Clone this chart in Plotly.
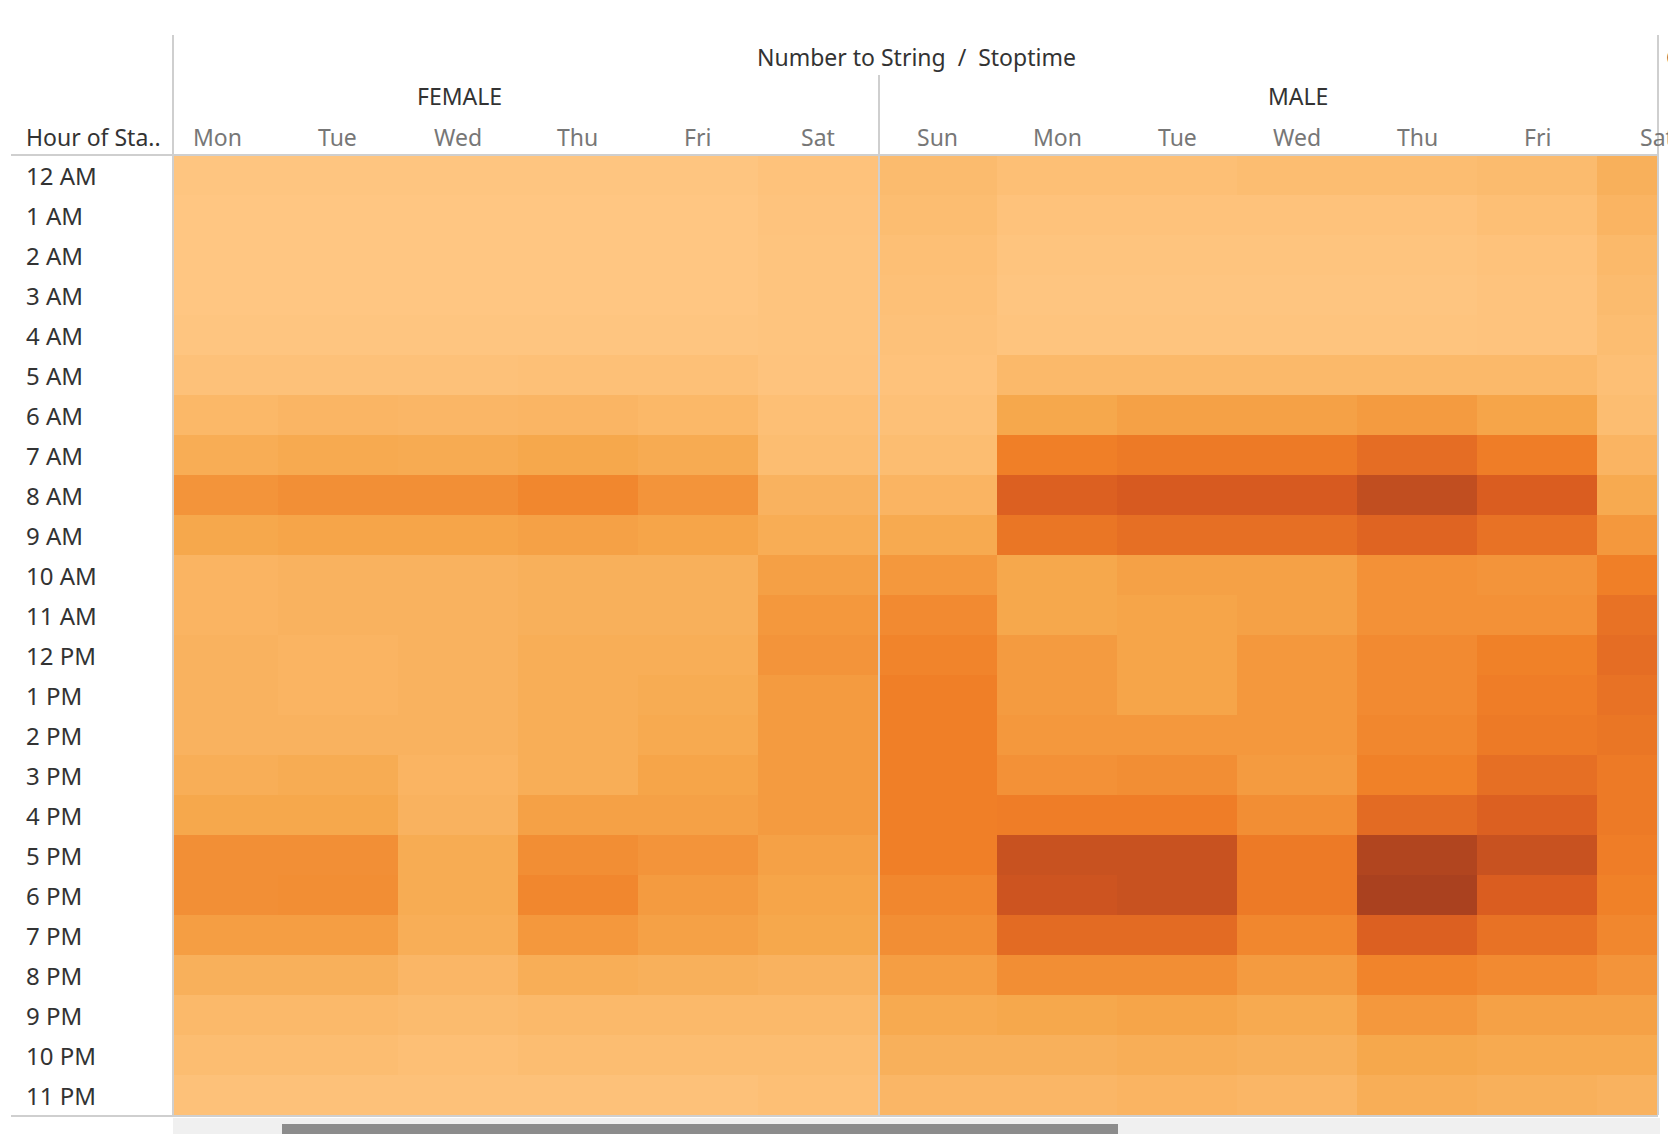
import plotly.graph_objects as go

hours = ["12 AM","1 AM","2 AM","3 AM","4 AM","5 AM","6 AM","7 AM","8 AM","9 AM","10 AM","11 AM",
         "12 PM","1 PM","2 PM","3 PM","4 PM","5 PM","6 PM","7 PM","8 PM","9 PM","10 PM","11 PM"]
female_days = ["Mon","Tue","Wed","Thu","Fri","Sat"]
male_days = ["Sun","Mon","Tue","Wed","Thu","Fri","Sat"]

female = [
 [2,2,2,2,2,5],[1,1,1,1,1,4],[1,1,1,1,1,3],[1,1,1,1,1,3],[2,2,2,2,2,3],[6,6,6,7,7,4],
 [15,17,16,17,15,8],[25,28,27,30,27,10],[42,45,45,50,42,20],[30,32,32,34,32,25],
 [18,20,20,22,22,35],[18,20,20,22,22,40],[20,18,20,24,24,42],[20,18,20,24,26,38],
 [20,20,20,24,28,38],[24,26,18,24,32,38],[30,30,20,34,34,38],[45,45,26,46,42,34],
 [45,46,26,50,38,32],[36,36,24,40,34,30],[22,22,16,24,22,20],[14,14,12,14,14,14],
 [10,10,8,10,10,10],[6,6,6,6,6,8]]
male = [
 [12,8,8,10,10,12,22],[10,5,5,5,5,8,18],[8,3,3,3,3,5,14],[7,2,2,2,2,4,12],[6,3,3,3,3,4,10],
 [5,14,14,14,14,14,8],[7,30,34,34,38,32,10],[10,55,58,58,65,56,18],[18,72,76,76,85,74,28],
 [28,60,64,64,70,62,40],[40,30,34,34,44,42,55],[48,30,32,34,44,44,62],[52,38,32,40,48,54,65],
 [55,38,32,40,48,56,62],[55,40,40,40,50,58,60],[55,44,46,38,54,64,58],[55,56,56,46,66,72,58],
 [55,82,82,58,92,82,56],[50,80,82,58,95,74,54],[46,66,66,50,72,62,50],[36,46,46,38,52,48,42],
 [28,30,32,28,40,34,34],[22,22,24,22,30,28,28],[16,16,18,16,24,22,20]]

OFF = 8
W, H = 1668, 1126
L, R, T, B = 173 - OFF, 1657 - OFF, 155 - OFF, 1115 - OFF
def px(x): return (x - OFF - L) / (R - L)
def py(y): return (B - (y - OFF)) / (B - T)

xs = list(range(1, 7)) + list(range(7, 14))
z = [f + m for f, m in zip(female, male)]
cs = [[0, '#FFC784'], [0.3, '#F6A84C'], [0.55, '#F07F27'], [0.75, '#D95B20'], [1, '#9E3A1F']]

fig = go.Figure(go.Heatmap(x=xs, y=list(range(24)), z=z, colorscale=cs, zmin=0, zmax=100,
                           showscale=False, xgap=0, ygap=0))
font = "Noto Sans"
def A(**k):
    k.setdefault('xanchor', 'center'); k.setdefault('yanchor', 'middle')
    k.setdefault('showarrow', False)
    return k
ann = []
for i, h in enumerate(hours):
    ann.append(A(x=px(24), xref='paper', y=i, yref='y', text=h, xanchor='left',
                 font=dict(size=24, color='#333', family=font)))
for i, d in enumerate(female_days + male_days):
    ann.append(A(x=xs[i], xref='x', y=py(137), yref='paper', text=d,
                 font=dict(size=23, color='#777', family=font)))
ann += [
    A(x=px(24), xref='paper', y=py(137), yref='paper', text="Hour of Sta..", xanchor='left',
      font=dict(size=23, color='#333', family=font)),
    A(x=px(916), xref='paper', y=py(57), yref='paper', text="Number to String  /  Stoptime",
      font=dict(size=23, color='#333', family=font)),
    A(x=px(459), xref='paper', y=py(96), yref='paper', text="FEMALE",
      font=dict(size=23, color='#333', family=font)),
    A(x=px(1298), xref='paper', y=py(96), yref='paper', text="MALE",
      font=dict(size=23, color='#333', family=font)),
    A(x=px(1664), xref='paper', y=py(57), yref='paper', text="C", xanchor='left',
      font=dict(size=23, color='#333', family=font)),
]
lc = '#cfcfcf'
def ln(x0, x1, y0, y1):
    return dict(type='line', xref='paper', yref='paper', x0=px(x0), x1=px(x1), y0=py(y0), y1=py(y1),
                line=dict(color=lc, width=2))
shapes = [
    ln(173, 173, 35, 1115), ln(879, 879, 75, 1115), ln(1658, 1658, 35, 1115),
    ln(11, 1658, 155, 155), ln(11, 1658, 1116, 1116),
    dict(type='rect', xref='paper', yref='paper', x0=px(173), x1=px(1660), y0=py(1134), y1=py(1118),
         fillcolor='#f0f0f0', line=dict(width=0)),
    dict(type='rect', xref='paper', yref='paper', x0=px(282), x1=px(1118), y0=py(1134), y1=py(1124),
         fillcolor='#8c8c8c', line=dict(width=0)),
]
fig.update_layout(width=W, height=H, margin=dict(l=L, r=W - R, t=T, b=H - B),
                  plot_bgcolor='white', paper_bgcolor='white', annotations=ann, shapes=shapes,
                  xaxis=dict(range=[0.625, 13.0], visible=False, fixedrange=True),
                  yaxis=dict(range=[23.5, -0.5], visible=False, fixedrange=True))
fig.write_html("out.html", config={'displayModeBar': False},
               post_script="document.body.style.overflow='hidden';")
